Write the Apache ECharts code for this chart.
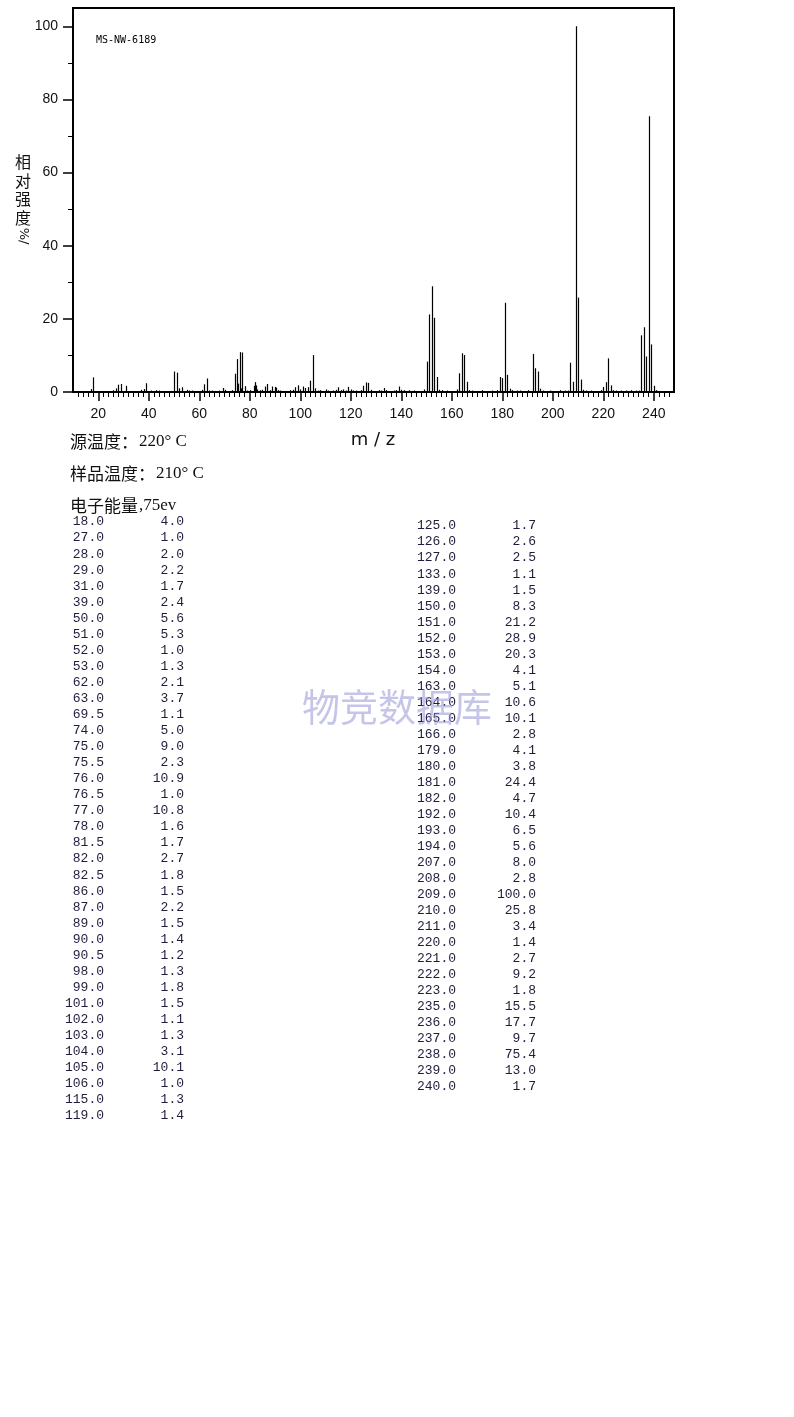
<!DOCTYPE html>
<html><head><meta charset="utf-8">
<script src="https://cdn.jsdelivr.net/npm/echarts@6/dist/echarts.min.js"></script>
<style>html,body{margin:0;padding:0;background:#fff}#c{width:794px;height:1417px}</style>
</head><body><div id="c"></div>
<script>
// Listed peaks (m/z, relative intensity %)
const mzLeft  = [18,27,28,29,31,39,50,51,52,53,62,63,69.5,74,75,75.5,76,76.5,77,78,81.5,82,82.5,86,87,89,90,90.5,98,99,101,102,103,104,105,106,115,119];
const relLeft = [4.0,1.0,2.0,2.2,1.7,2.4,5.6,5.3,1.0,1.3,2.1,3.7,1.1,5.0,9.0,2.3,10.9,1.0,10.8,1.6,1.7,2.7,1.8,1.5,2.2,1.5,1.4,1.2,1.3,1.8,1.5,1.1,1.3,3.1,10.1,1.0,1.3,1.4];
const mzRight  = [125,126,127,133,139,150,151,152,153,154,163,164,165,166,179,180,181,182,192,193,194,207,208,209,210,211,220,221,222,223,235,236,237,238,239,240];
const relRight = [1.7,2.6,2.5,1.1,1.5,8.3,21.2,28.9,20.3,4.1,5.1,10.6,10.1,2.8,4.1,3.8,24.4,4.7,10.4,6.5,5.6,8.0,2.8,100.0,25.8,3.4,1.4,2.7,9.2,1.8,15.5,17.7,9.7,75.4,13.0,1.7];
// Small unlisted peaks (<1 %)
const minorMz  = [17,26,37,38,41,43,44,49,55,56,57,61,64,65,68,70,73,79,80,83,84,85,88,91,92,96,97,100,107,108,110,111,113,114,116,117,118,120,121,122,124,128,131,132,134,137,138,140,141,143,145,149,155,156,158,162,167,168,172,176,178,183,184,186,187,190,195,196,199,203,205,206,212,213,215,219,224,225,227,229,231,233,234,241];
const minorRel = [0.8,0.5,0.6,0.8,0.4,0.5,0.4,0.3,0.6,0.4,0.4,0.6,0.4,0.4,0.4,0.6,0.5,0.4,0.5,0.7,0.5,0.6,0.5,0.5,0.4,0.5,0.6,0.7,0.4,0.5,0.7,0.4,0.4,0.6,0.5,0.7,0.4,0.7,0.4,0.4,0.5,0.6,0.5,0.4,0.5,0.4,0.5,0.6,0.5,0.5,0.4,0.7,0.6,0.5,0.4,0.7,0.5,0.4,0.5,0.4,0.5,0.9,0.5,0.4,0.4,0.5,0.9,0.4,0.4,0.5,0.4,0.4,0.6,0.4,0.4,0.5,0.5,0.4,0.4,0.4,0.5,0.4,0.4,0.5,0.7];
const yTickVals = [0,20,40,60,80,100];
const yMinorVals = [10,30,50,70,90];
const xTickVals = [20,40,60,80,100,120,140,160,180,200,220,240];
const xMinorVals = [12,14,16,18,22,24,26,28,30,32,34,36,38,42,44,46,48,50,52,54,56,58,62,64,66,68,70,72,74,76,78,82,84,86,88,90,92,94,96,98,102,104,106,108,110,112,114,116,118,122,124,126,128,130,132,134,136,138,142,144,146,148,150,152,154,156,158,162,164,166,168,170,172,174,176,178,182,184,186,188,190,192,194,196,198,202,204,206,208,210,212,214,216,218,222,224,226,228,230,232,234,236,238,242,244,246];

const peaks = [];
mzLeft.forEach((m,i)=>peaks.push([m, relLeft[i]]));
mzRight.forEach((m,i)=>peaks.push([m, relRight[i]]));
minorMz.forEach((m,i)=>peaks.push([m, minorRel[i]]));

const chart = echarts.init(document.getElementById('c'), null, {renderer:'canvas'});
const tickFont = 'Liberation Sans, Arial, sans-serif';
const monoFont = '"Liberation Mono", "Courier New", monospace';

const graphics = [];
function txt(text, x, y, font, align, fill, extra){
  const o = {type:'text', style:Object.assign({text, x, y, font, fill: fill||'#000', textAlign: align||'left', textVerticalAlign:'middle'}, extra||{})};
  graphics.push(o); return o;
}
// header label
txt('MS-NW-6189', 96, 40, '10px "DejaVu Sans Mono", monospace', 'left', '#000');
// y axis name
['相','对','强','度'].forEach((ch,i)=>txt(ch, 23, 162 + i*18.5, '16px "Noto Sans CJK SC", sans-serif', 'center', '#111'));
graphics.push({type:'text', x:23, y:236, rotation: -Math.PI/2, style:{text:'%/', x:0, y:0, font:'13px "DejaVu Sans", sans-serif', fill:'#111', textAlign:'center', textVerticalAlign:'middle'}});
// x axis name
txt('m / z', 373, 440, '18px "DejaVu Sans", sans-serif', 'center', '#111');
// conditions (CJK + latin parts)
const richCond = {
  c:{font:'17px "Noto Sans CJK SC", sans-serif', fill:'#111', padding:[0,1,0,0]},
  l:{font:'17px "Liberation Serif", serif', fill:'#111'}
};
function cond(cjk, latin, y){
  graphics.push({type:'text', style:{text:'{c|'+cjk+'}{l|'+latin+'}', rich:richCond, x:70, y:y, textAlign:'left', textVerticalAlign:'middle'}});
}
cond('源温度：', '220° C', 442);
cond('样品温度：', '210° C', 474);
cond('电子能量', ',75ev', 506);
// table
const tableColor = '#1e1e3c';
mzLeft.forEach((m,i)=>{
  const y = 522 + i*16.05;
  txt(m.toFixed(1), 104, y, '13px ' + monoFont, 'right', tableColor);
  txt(relLeft[i].toFixed(1), 184, y, '13px ' + monoFont, 'right', tableColor);
});
mzRight.forEach((m,i)=>{
  const y = 526 + i*16.03;
  txt(m.toFixed(1), 456, y, '13px ' + monoFont, 'right', tableColor);
  txt(relRight[i].toFixed(1), 536, y, '13px ' + monoFont, 'right', tableColor);
});
// watermark
graphics.push({type:'text', z:100, style:{text:'物竞数据库', x:397, y:707, font:'38px "Noto Sans CJK SC", sans-serif', fill:'rgba(150,150,215,0.55)', textAlign:'center', textVerticalAlign:'middle'}});

const axisLineStyle = {color:'#000', width:2};
chart.setOption({
  backgroundColor:'#fff',
  animation:false,
  grid:{left:73, top:8, width:601, height:384, show:true, borderColor:'#000', borderWidth:2, backgroundColor:'transparent'},
  xAxis:[
    {type:'value', min:10, max:248, position:'bottom',
     axisLine:{show:true, lineStyle:axisLineStyle},
     axisTick:{show:true, customValues:xTickVals, length:9, lineStyle:{color:'#000', width:1.5}},
     axisLabel:{show:true, customValues:xTickVals, color:'#111', fontSize:14, fontFamily:tickFont, margin:15},
     splitLine:{show:false}},
    {type:'value', min:10, max:248, position:'bottom',
     axisLine:{show:false},
     axisTick:{show:true, customValues:xMinorVals, length:5, lineStyle:{color:'#000', width:1}},
     axisLabel:{show:false}, splitLine:{show:false}}
  ],
  yAxis:[
    {type:'value', min:0, max:105, position:'left',
     axisLine:{show:true, lineStyle:axisLineStyle},
     axisTick:{show:true, customValues:yTickVals, length:10, lineStyle:{color:'#000', width:1.5}},
     axisLabel:{show:true, customValues:yTickVals, color:'#111', fontSize:14, fontFamily:tickFont, margin:15},
     splitLine:{show:false}},
    {type:'value', min:0, max:105, position:'left',
     axisLine:{show:false},
     axisTick:{show:true, customValues:yMinorVals, length:5, lineStyle:{color:'#000', width:1}},
     axisLabel:{show:false}, splitLine:{show:false}}
  ],
  series:[{
    type:'custom', xAxisIndex:0, yAxisIndex:0, clip:true,
    data: peaks,
    renderItem:function(params, api){
      const top = api.coord([api.value(0), api.value(1)]);
      const base = api.coord([api.value(0), 0]);
      const x = Math.round(top[0]) + 0.5;
      return {type:'line', shape:{x1:x, y1:base[1], x2:x, y2:top[1]}, style:{stroke:'#000', lineWidth:1.2}};
    }
  }],
  graphic: graphics
});
</script></body></html>
